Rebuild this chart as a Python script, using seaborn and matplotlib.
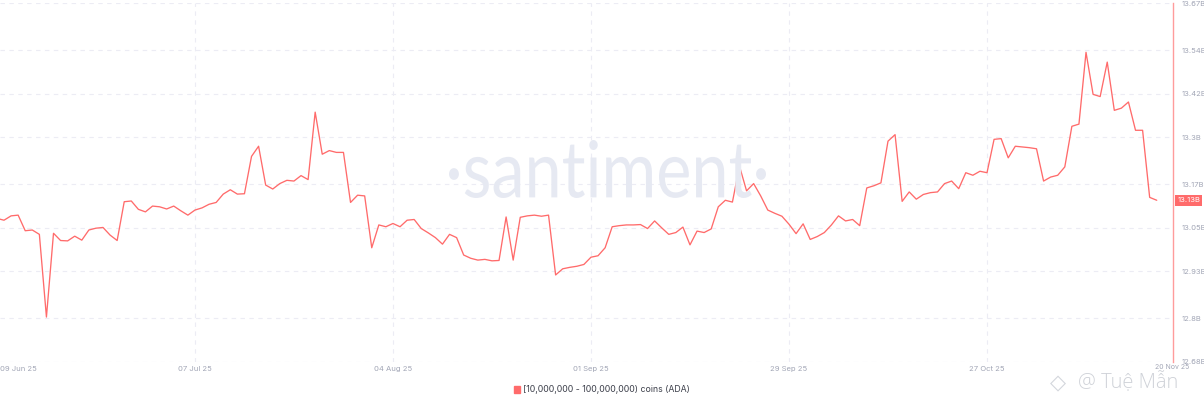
import pandas as pd
import numpy as np
import seaborn as sns
import matplotlib
matplotlib.use("Agg")
import matplotlib.pyplot as plt
import matplotlib.dates as mdates
from matplotlib.patches import Patch, PathPatch
from matplotlib.textpath import TextPath
from matplotlib.font_manager import FontProperties
from matplotlib.transforms import Affine2D, blended_transform_factory

# daily holdings of the 10M-100M ADA cohort, in billions of coins
start_date = "2025-06-09"
holdings = [
    13.076,
    13.071, 13.083, 13.085, 13.042, 13.044, 13.032, 12.804, 13.035, 13.015, 13.014,
    13.027, 13.016, 13.044, 13.049, 13.051, 13.030, 13.015, 13.122, 13.124, 13.101,
    13.094, 13.110, 13.108, 13.102, 13.110, 13.097, 13.085, 13.099, 13.105, 13.115,
    13.120, 13.143, 13.155, 13.143, 13.144, 13.247, 13.275, 13.168, 13.157, 13.172,
    13.181, 13.179, 13.194, 13.183, 13.369, 13.253, 13.263, 13.258, 13.258, 13.120,
    13.140, 13.138, 12.995, 13.058, 13.053, 13.062, 13.053, 13.071, 13.073, 13.048,
    13.036, 13.023, 13.005, 13.032, 13.023, 12.975, 12.966, 12.961, 12.963, 12.959,
    12.960, 13.080, 12.961, 13.079, 13.083, 13.085, 13.082, 13.085, 12.920, 12.937,
    12.941, 12.944, 12.949, 12.969, 12.973, 12.995, 13.053, 13.056, 13.058, 13.058,
    13.059, 13.048, 13.069, 13.050, 13.032, 13.037, 13.052, 13.003, 13.041, 13.037,
    13.047, 13.108, 13.126, 13.121, 13.220, 13.152, 13.172, 13.138, 13.099, 13.090,
    13.082, 13.060, 13.034, 13.061, 13.018, 13.026, 13.037, 13.058, 13.083, 13.069,
    13.073, 13.056, 13.160, 13.166, 13.174, 13.289, 13.307, 13.123, 13.149, 13.129,
    13.142, 13.147, 13.149, 13.172, 13.179, 13.158, 13.202, 13.195, 13.206, 13.202,
    13.294, 13.296, 13.243, 13.275, 13.273, 13.271, 13.268, 13.179, 13.190, 13.195,
    13.218, 13.330, 13.336, 13.534, 13.418, 13.412, 13.507, 13.374, 13.380, 13.397,
    13.319, 13.319, 13.134, 13.126,
]
y_ticks = [12.68, 12.8, 12.93, 13.05, 13.17, 13.3, 13.42, 13.54, 13.67]
y_tick_labels = ["12.68B", "12.8B", "12.93B", "13.05B", "13.17B", "13.3B", "13.42B", "13.54B", "13.67B"]
x_tick_dates = ["2025-07-07", "2025-08-04", "2025-09-01", "2025-09-29", "2025-10-27"]
x_tick_labels = ["07 Jul 25", "04 Aug 25", "01 Sep 25", "29 Sep 25", "27 Oct 25"]
series_name = "[10,000,000 - 100,000,000) coins (ADA)"
last_label = "13.13B"

df = pd.DataFrame({
    "Date": pd.date_range(start_date, periods=len(holdings), freq="D"),
    "Holdings": holdings,
})

W, H = 1204, 403
RED = "#ff6b6b"
GRID = "#ececf4"
TICK = "#a2a6b6"

sns.set_theme(style="white")
plt.rcParams["font.family"] = ["Inter", "DejaVu Sans"]

fig = plt.figure(figsize=(W / 100, H / 100), dpi=100)
ax = fig.add_axes([0, 41 / H, 1173 / W, 359 / H])

# big faint watermark, squeezed to fit the original box
tp = TextPath((0, 0), "·santiment·", size=100, prop=FontProperties(family="Lato"))
bb = tp.get_extents()
sx = (766 - 449) / bb.width
sy = (198 - 140) / bb.height
tr = (Affine2D().translate(-bb.x0, -bb.y0).scale(sx, sy).translate(449, H - 198)
      .scale(1 / W, 1 / H) + fig.transFigure)
fig.patches.append(PathPatch(tp, transform=tr, color="#e6e9f2", lw=0, zorder=0))
ax.patch.set_alpha(0)

sns.lineplot(data=df, x="Date", y="Holdings", ax=ax, color=RED, linewidth=0.95, zorder=3)

d0 = mdates.date2num(pd.Timestamp("2025-06-10"))
ax.set_xlim(d0 - 0.566, d0 + 165.3)
ax.set_ylim(y_ticks[0], y_ticks[-1])

ax.set_xticks([mdates.date2num(pd.Timestamp(d)) for d in x_tick_dates])
ax.set_xticklabels(x_tick_labels)
ax.yaxis.tick_right()
ax.set_yticks(y_ticks)
ax.set_yticklabels(y_tick_labels)
ax.tick_params(axis="both", length=0, labelsize=5.5, colors=TICK)
ax.tick_params(axis="y", pad=6)
ax.tick_params(axis="x", pad=3)
ax.set_xlabel("")
ax.set_ylabel("")
ax.grid(True, color=GRID, linestyle=(0, (4, 4)), linewidth=0.8)
for side in ["left", "top", "bottom"]:
    ax.spines[side].set_visible(False)
ax.spines["right"].set_color("#ff9c9c")
ax.spines["right"].set_linewidth(1.0)

# edge date labels
fig.text(0 / W, 1 - 369 / H, "09 Jun 25", fontsize=5.5, color=TICK, ha="left", va="center")
fig.text(1172 / W, 1 - 367 / H, "20 Nov 25", fontsize=5, color=TICK, ha="center", va="center")

# last value badge
ax.annotate(last_label, xy=(1.0, holdings[-1]), xycoords=blended_transform_factory(ax.transAxes, ax.transData),
            xytext=(3, 0), textcoords="offset points", ha="left", va="center",
            fontsize=5.5, color="white",
            bbox=dict(boxstyle="square,pad=0.3", fc=RED, ec="none"))

leg = fig.legend(handles=[Patch(color=RED, label=series_name)], loc="center",
                 bbox_to_anchor=(0.5, 1 - 390 / H), frameon=False, fontsize=6.3,
                 handlelength=0.7, handleheight=0.7, handletextpad=0.4)
for t in leg.get_texts():
    t.set_color("#3c3f4a")

# corner watermark
fig.text(1058 / W, 1 - 383 / H, "◇", fontsize=15, color="#d3d6dc", ha="center", va="center",
         family=["DejaVu Sans"])
fig.text(1078 / W, 1 - 383 / H, "@ Tuệ Mẫn", fontsize=14.5, color="#cfd2d8", ha="left", va="center",
         family=["Open Sans", "DejaVu Sans"], fontweight="light")

fig.savefig("out.png", dpi=100)
